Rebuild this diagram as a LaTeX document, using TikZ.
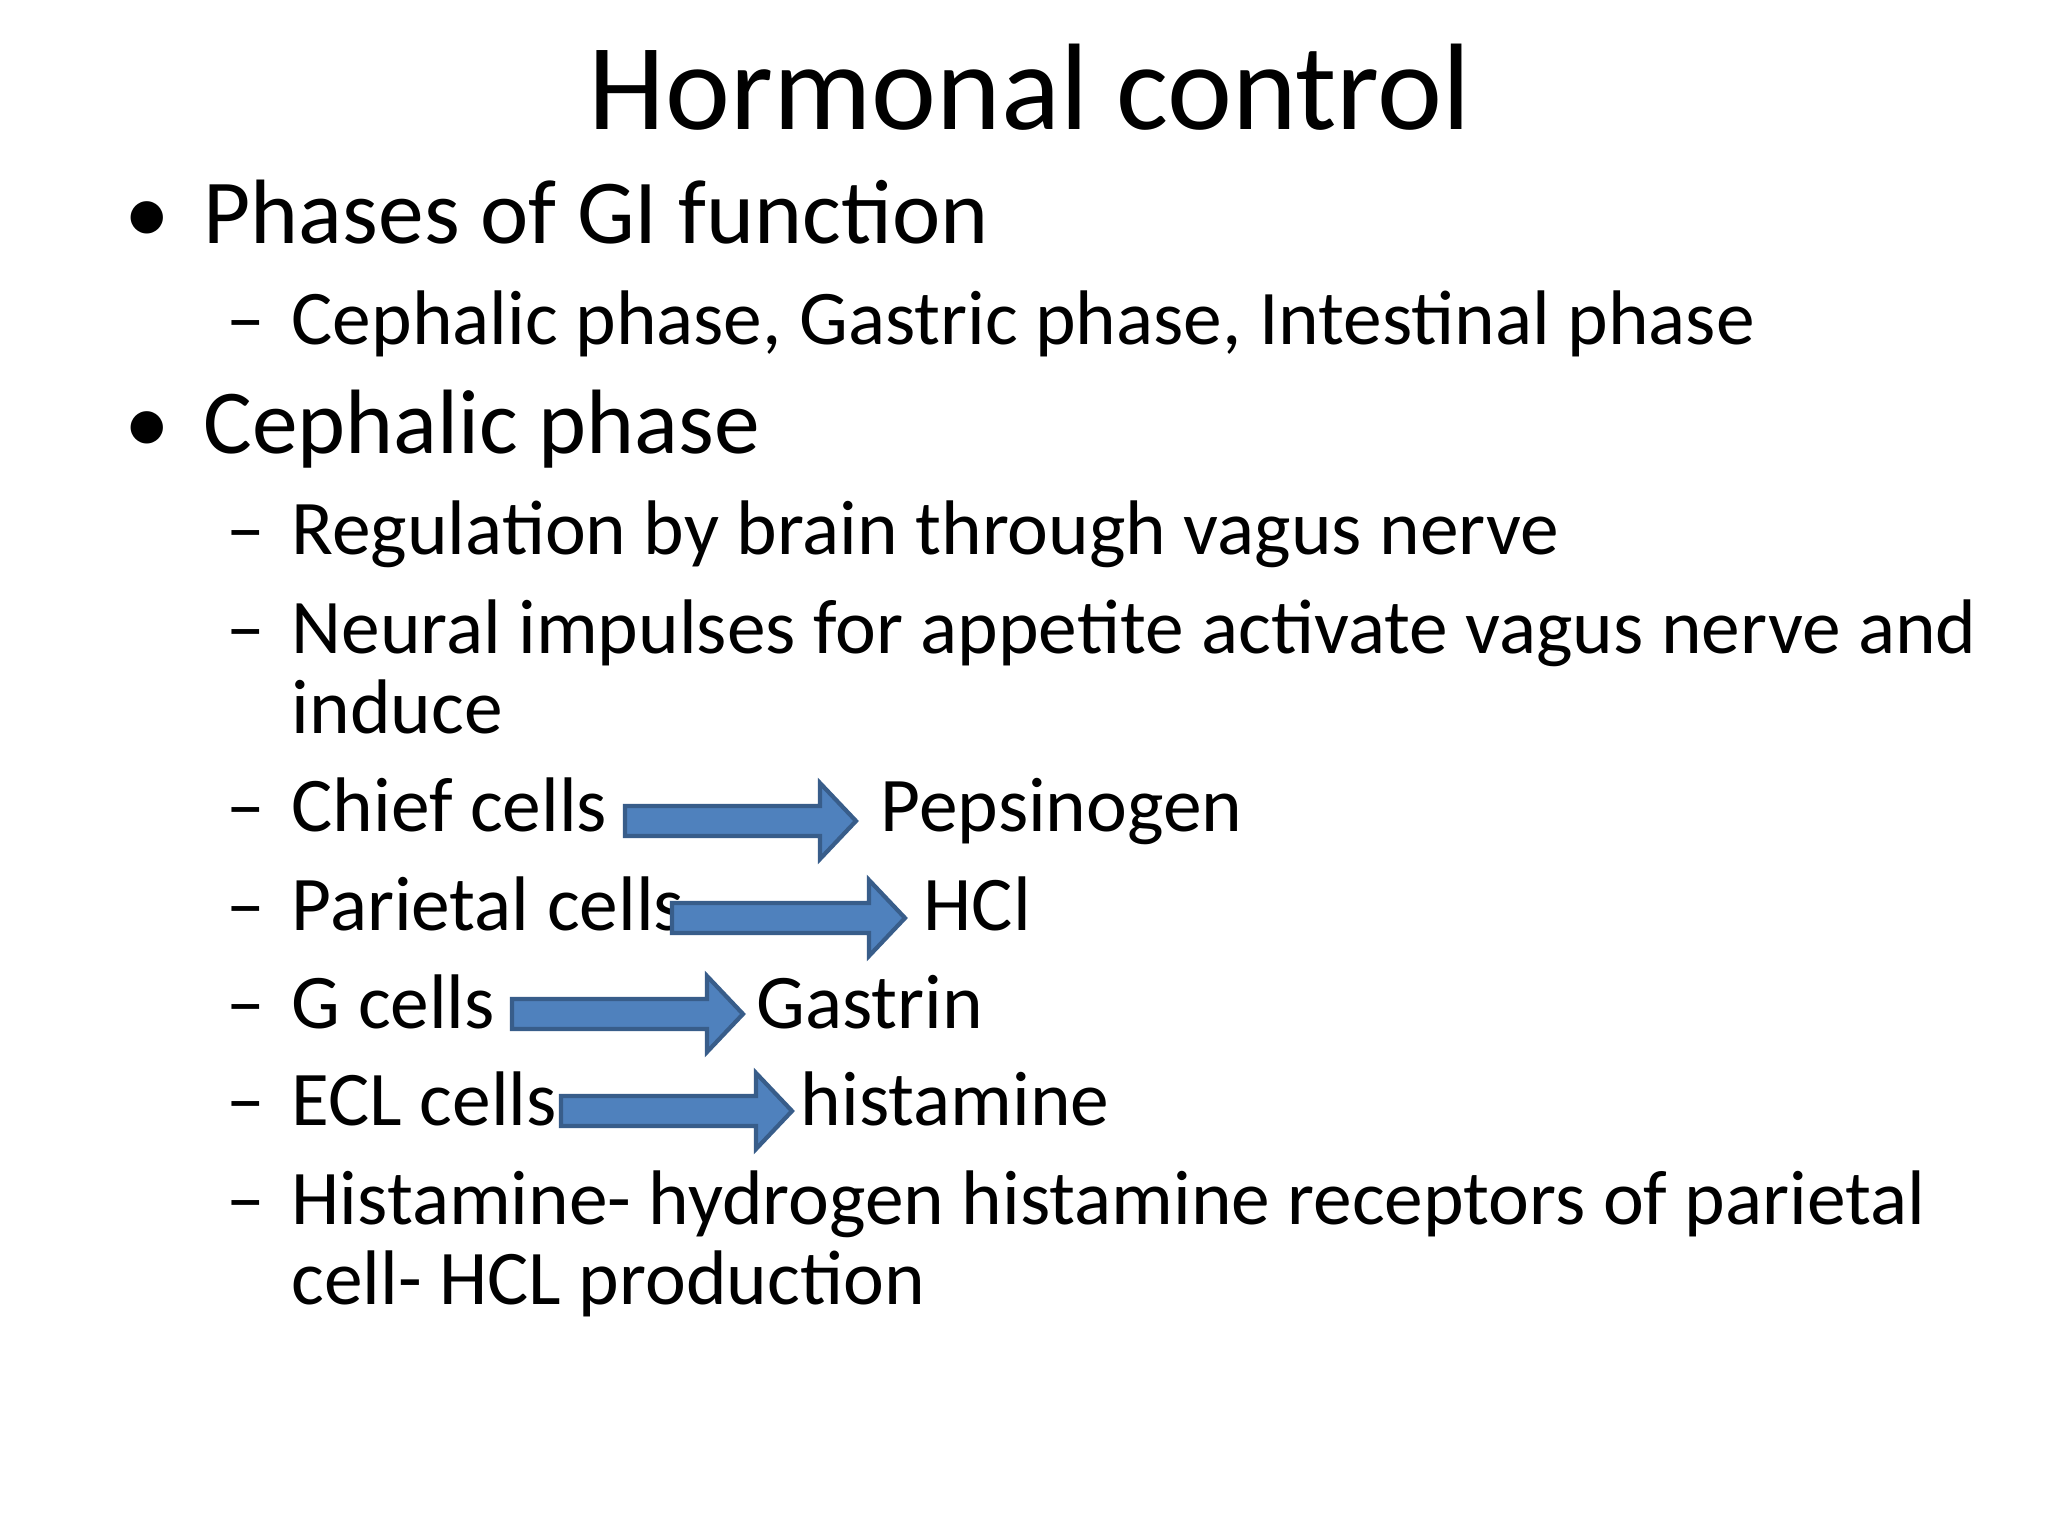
\documentclass[tikz,border=0pt]{standalone}
\usepackage{fontspec}
\setmainfont{Carlito}
\definecolor{afill}{HTML}{4F81BD}
\definecolor{aline}{HTML}{385D8A}
\begin{document}
\begin{tikzpicture}[x=0.01cm,y=-0.01cm,
  ttl/.style={anchor=base,font=\fontsize{35}{40}\selectfont,inner sep=0},
  lone/.style={anchor=base west,font=\fontsize{26}{30}\selectfont,inner sep=0},
  ltwo/.style={anchor=base west,font=\fontsize{22}{26}\selectfont,inner sep=0},
  barrow/.style={fill=afill,draw=aline,line width=1.2pt}]
\useasboundingbox (0,0) rectangle (2048,1536);
\fill[white] (0,0) rectangle (2048,1536);
\newcommand{\blarrow}[3]{% x1 x2 y
  \draw[barrow] (#1,#3-15) -- (#2-36,#3-15) -- (#2-36,#3-38) -- (#2,#3) -- (#2-36,#3+38) -- (#2-36,#3+15) -- (#1,#3+15) -- cycle;}
\node[ttl] (title) at (1030,129) {Hormonal control};
\node[lone] (b1) at (124,243) {•};
\node[lone] (t1) at (203,243) {Phases of GI function};
\node[ltwo] (d1) at (226,344) {–};
\node[ltwo] (s1) at (291,344) {Cephalic phase, Gastric phase, Intestinal phase};
\node[lone] (b2) at (124,453) {•};
\node[lone] (t2) at (203,453) {Cephalic phase};
\node[ltwo] (d2) at (226,554) {–};
\node[ltwo] (s2) at (291,554) {Regulation by brain through vagus nerve};
\node[ltwo] (d3) at (226,653) {–};
\node[ltwo] (s3) at (291,653) {Neural impulses for appetite activate vagus nerve and};
\node[ltwo] (s3b) at (291,733) {induce};
\node[ltwo] (d4) at (226,831) {–};
\node[ltwo] (s4) at (291,831) {Chief cells};
\node[ltwo] (r4) at (880,831) {Pepsinogen};
\node[ltwo] (d5) at (226,930) {–};
\node[ltwo] (s5) at (291,930) {Parietal cells};
\node[ltwo] (r5) at (923,930) {HCl};
\node[ltwo] (d6) at (226,1028) {–};
\node[ltwo] (s6) at (291,1028) {G cells};
\node[ltwo] (r6) at (756,1028) {Gastrin};
\node[ltwo] (d7) at (226,1125) {–};
\node[ltwo] (s7) at (291,1125) {ECL cells};
\node[ltwo] (r7) at (800,1125) {histamine};
\node[ltwo] (d8) at (226,1224) {–};
\node[ltwo] (s8) at (291,1224) {Histamine- hydrogen histamine receptors of parietal};
\node[ltwo] (s8b) at (291,1304) {cell- HCL production};
\blarrow{625}{856}{821}
\blarrow{672}{905}{918}
\blarrow{512}{743}{1014}
\blarrow{561}{792}{1111}
\end{tikzpicture}
\end{document}
